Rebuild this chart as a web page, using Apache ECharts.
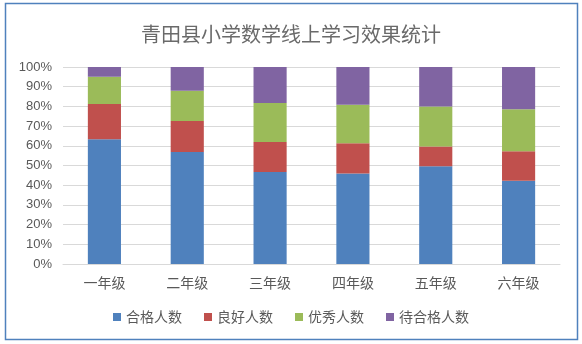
<!DOCTYPE html>
<html><head><meta charset="utf-8">
<script src="https://cdn.jsdelivr.net/npm/echarts@6/dist/echarts.min.js"></script>
<style>html,body{margin:0;padding:0;background:#fff}#c{width:582px;height:344px}</style>
</head><body><div id="c"></div>
<script>
const categories = ['一年级','二年级','三年级','四年级','五年级','六年级'];
const seriesNames = ['合格人数','良好人数','优秀人数','待合格人数'];
const pass = [63.3, 56.9, 46.7, 45.9, 49.6, 42.3];
const good = [17.9, 15.7, 15.2, 15.4, 10.1, 14.9];
const excellent = [13.9, 15.4, 19.8, 19.6, 20.2, 21.3];
const needWork = [4.9, 12.0, 18.3, 19.1, 20.1, 21.5];
const yTicks = [0,10,20,30,40,50,60,70,80,90,100];
const colors = ['#4F81BD','#C0504D','#9BBB59','#8064A2'];
const values = [pass, good, excellent, needWork];

const chart = echarts.init(document.getElementById('c'), null, {renderer:'canvas'});
chart.setOption({
  animation:false,
  color: colors,
  title:{text:'青田县小学数学线上学习效果统计', left:'center', top:19,
    textStyle:{fontFamily:'Noto Sans CJK SC', fontSize:20, fontWeight:'normal', color:'#6a6a6a'}},
  graphic:[{type:'rect', shape:{x:5.5,y:3.5,width:572,height:336}, style:{fill:'none', stroke:'#4F81BD', lineWidth:1.5}, silent:true}],
  grid:{left:63, right:22, top:67, bottom:80},
  legend:{bottom:15, left:'center', itemWidth:8, itemHeight:8, itemGap:22, icon:'rect',
    textStyle:{fontFamily:'Noto Sans CJK SC', fontSize:14, color:'#595959'},
    data: seriesNames},
  xAxis:{type:'category', data:categories,
    axisLine:{lineStyle:{color:'#D9D9D9'}}, axisTick:{show:false},
    axisLabel:{fontFamily:'Noto Sans CJK SC', fontSize:14, color:'#595959', margin:12}},
  yAxis:{type:'value', min:0, max:100, interval:10,
    axisLine:{show:false}, axisTick:{show:false},
    splitLine:{lineStyle:{color:'#D9D9D9'}},
    axisLabel:{fontFamily:'Liberation Sans', fontSize:13, color:'#595959', margin:11,
      formatter: v => yTicks.includes(v) ? v + '%' : ''}},
  series: seriesNames.map((n,i)=>({name:n, type:'bar', stack:'total', barWidth:'40%', data:values[i]}))
});
</script></body></html>
